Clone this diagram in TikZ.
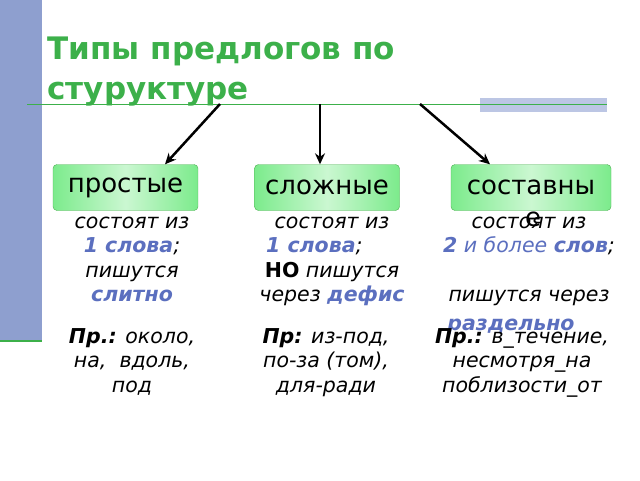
\documentclass[tikz,border=0pt]{standalone}
\usepackage{fontspec}
\setmainfont{DejaVu Sans}
\usetikzlibrary{arrows.meta}
\definecolor{tgreen}{HTML}{3CB04A}
\definecolor{bar}{HTML}{8E9FCF}
\definecolor{lbar}{HTML}{BCC6E4}
\definecolor{bl}{HTML}{5B6FBF}
\definecolor{bfill}{HTML}{7CEB8C}
\definecolor{bdraw}{HTML}{4CAF50}
\tikzset{
 cat/.style={draw=bdraw,rounded corners=4pt,minimum width=145pt,minimum height=46pt,
   top color=bfill,bottom color=bfill,middle color=white!60!bfill,shading angle=90,font=\fontsize{26}{28}\selectfont},
 txt/.style={align=center,font=\fontsize{20.5}{24.5}\selectfont\itshape},
 arr/.style={line width=2.5pt,-{Stealth[length=11pt,width=10pt]}}
}
\begin{document}
\begin{tikzpicture}[x=1pt,y=-1pt]
\useasboundingbox (0,0) rectangle (640,480);
\fill[white] (0,0) rectangle (640,480);
\fill[bar] (0,0) rectangle (42,340);
\draw[tgreen,line width=1.5pt] (0,341) -- (42,341);
\fill[lbar] (480,98) rectangle (607,112);
\draw[tgreen,line width=1pt] (27,104) -- (607,104);
\node[anchor=north west,align=left,text=tgreen,font=\fontsize{31}{40}\selectfont\bfseries] (title) at (44,33) {Типы предлогов по\\стуруктуре};
\node[cat] (p) at (125.5,187.5) {простые};
\node[cat] (s) at (327,187.5) {сложные};
\node[cat,minimum width=160pt] (c) at (531,187.5) {составны};
\node[font=\fontsize{26}{28}\selectfont,inner sep=0pt] (e) at (533,219) {е};
\coordinate (a1) at (220,104);
\coordinate (a2) at (320,104);
\coordinate (a3) at (420,104);
\draw[arr] (a1) -- (p.north -| 165,0);
\draw[arr] (a2) -- (s.north -| 320,0);
\draw[arr] (a3) -- (c.north -| 490,0);
\node[txt,anchor=north] (t1) at (132,213) {состоят из\\\textcolor{bl}{\bfseries 1 слова}; \\пишутся\\\textcolor{bl}{\bfseries слитно}};
\node[txt,anchor=north] (t2) at (332,213) {состоят из\\\textcolor{bl}{\bfseries 1 слова};\phantom{MM}\\{\upshape\bfseries НО} пишутся\\через \textcolor{bl}{\bfseries дефис}};
\node[txt,anchor=north] (t3) at (529,213) {состоят из\\\textcolor{bl}{{\bfseries 2} и более {\bfseries слов}}; \\\mbox{}\\пишутся через};
\node[txt,anchor=north] (t3b) at (511,315) {\textcolor{bl}{\bfseries раздельно}};
\node[txt,anchor=north] (x1) at (132,325) {{\bfseries Пр.:} около,\\на,\ \ вдоль,\\под};
\node[txt,anchor=north] (x2) at (326,325) {{\bfseries Пр:} из-под,\\по-за (том),\\для-ради};
\node[txt,anchor=north] (x3) at (522,325) {{\bfseries Пр.:} в\_течение,\\несмотря\_на\\поблизости\_от};
\end{tikzpicture}
\end{document}
